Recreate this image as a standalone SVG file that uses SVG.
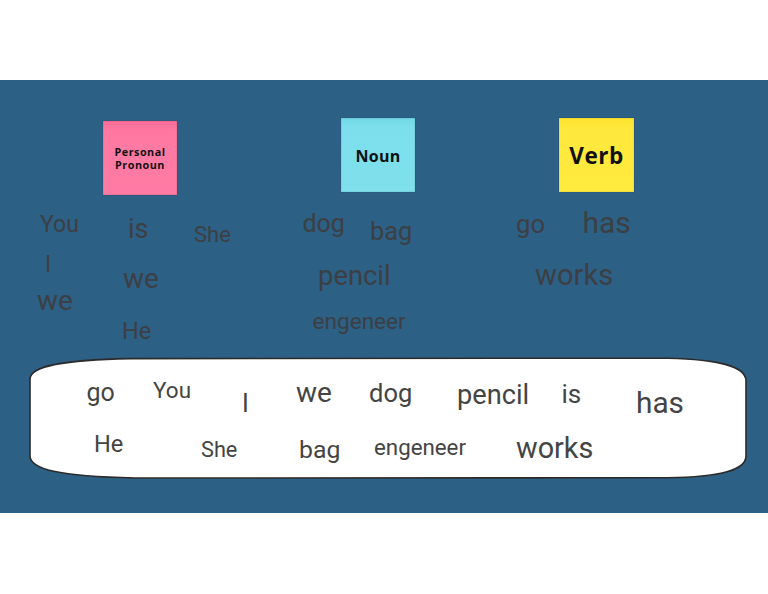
<svg xmlns="http://www.w3.org/2000/svg" width="768" height="594" viewBox="0 0 768 594">
  <defs>
    <linearGradient id="gPink" x1="0" y1="0" x2="0" y2="1">
      <stop offset="0" stop-color="#ff6c97"/>
      <stop offset="0.12" stop-color="#ff79a3"/>
      <stop offset="1" stop-color="#ff7ba4"/>
    </linearGradient>
    <linearGradient id="gCyan" x1="0" y1="0" x2="0" y2="1">
      <stop offset="0" stop-color="#70d9e6"/>
      <stop offset="0.12" stop-color="#7cdfeb"/>
      <stop offset="1" stop-color="#7fe0eb"/>
    </linearGradient>
    <linearGradient id="gYellow" x1="0" y1="0" x2="0" y2="1">
      <stop offset="0" stop-color="#ffe32e"/>
      <stop offset="0.12" stop-color="#ffe83b"/>
      <stop offset="1" stop-color="#ffea3e"/>
    </linearGradient>
  </defs>
  <style>
    .w { font-family: Roboto, "Liberation Sans", sans-serif; fill: #3c3f44; }
    .wb { font-family: Roboto, "Liberation Sans", sans-serif; fill: #444444; }
    .lbl { font-family: "Open Sans", "Liberation Sans", sans-serif; font-weight: 700; fill: #111111; text-anchor: middle; }
    .note { stroke: #000; stroke-opacity: 0.12; stroke-width: 1; }
  </style>
  <rect x="0" y="0" width="768" height="594" fill="#ffffff"/>
  <rect x="0" y="80" width="768" height="433" fill="#2d6085"/>

  <g id="note-pronoun">
    <rect class="note" x="103" y="121" width="74" height="74" fill="url(#gPink)"/>
    <text class="lbl" x="140" y="155.5" font-size="10.8" letter-spacing="0.5">Personal</text>
    <text class="lbl" x="140" y="169.2" font-size="10.8" letter-spacing="0.5">Pronoun</text>
  </g>
  <g id="note-noun">
    <rect class="note" x="341" y="118" width="74" height="74" fill="url(#gCyan)"/>
    <text class="lbl" x="378" y="161.5" font-size="16" letter-spacing="0.3">Noun</text>
  </g>
  <g id="note-verb">
    <rect class="note" x="559" y="118" width="75" height="74" fill="url(#gYellow)"/>
    <text class="lbl" x="596.5" y="164" font-size="22.5" letter-spacing="0.5">Verb</text>
  </g>

  <g id="words-pronoun">
    <text class="w" x="40" y="231.5" font-size="23">You</text>
    <text class="w" x="45" y="271.5" font-size="23">I</text>
    <text class="w" x="37" y="309.5" font-size="28">we</text>
    <text class="w" x="128" y="238" font-size="27">is</text>
    <text class="w" x="123" y="288" font-size="28">we</text>
    <text class="w" x="122" y="339" font-size="23.5">He</text>
    <text class="w" x="194" y="241.5" font-size="22">She</text>
  </g>
  <g id="words-noun">
    <text class="w" x="302.5" y="231.5" font-size="25">dog</text>
    <text class="w" x="370" y="240" font-size="25.4">bag</text>
    <text class="w" x="318" y="284.5" font-size="27.4">pencil</text>
    <text class="w" x="312.5" y="328.5" font-size="22.6">engeneer</text>
  </g>
  <g id="words-verb">
    <text class="w" x="516" y="232.5" font-size="25.7">go</text>
    <text class="w" x="582.5" y="233.3" font-size="30">has</text>
    <text class="w" x="535" y="285" font-size="29.2">works</text>
  </g>

  <g id="word-bank">
    <path d="M 130,358.6 L 668,358.2 C 722,359.5 746,367 746,381 L 746,456 C 746,470 722,477 668,477.8 L 135,478 C 58,476.5 30,469 30,456 L 30,379 C 30,367 58,360 130,358.6 Z" fill="#ffffff" stroke="#2b2b2b" stroke-width="1.6"/>
    <text class="wb" x="86.5" y="400.7" font-size="25">go</text>
    <text class="wb" x="153" y="398.3" font-size="22.5">You</text>
    <text class="wb" x="242" y="411.7" font-size="25">I</text>
    <text class="wb" x="296" y="401.7" font-size="28">we</text>
    <text class="wb" x="369" y="401.7" font-size="25.5">dog</text>
    <text class="wb" x="457" y="404.3" font-size="27.2">pencil</text>
    <text class="wb" x="561.5" y="403.3" font-size="26">is</text>
    <text class="wb" x="636" y="413.3" font-size="29.8">has</text>
    <text class="wb" x="94" y="452.3" font-size="23.6">He</text>
    <text class="wb" x="201" y="456.7" font-size="21.7">She</text>
    <text class="wb" x="299" y="458.3" font-size="24.8">bag</text>
    <text class="wb" x="374" y="455" font-size="22.3">engeneer</text>
    <text class="wb" x="516" y="458.3" font-size="28.8">works</text>
  </g>
</svg>
